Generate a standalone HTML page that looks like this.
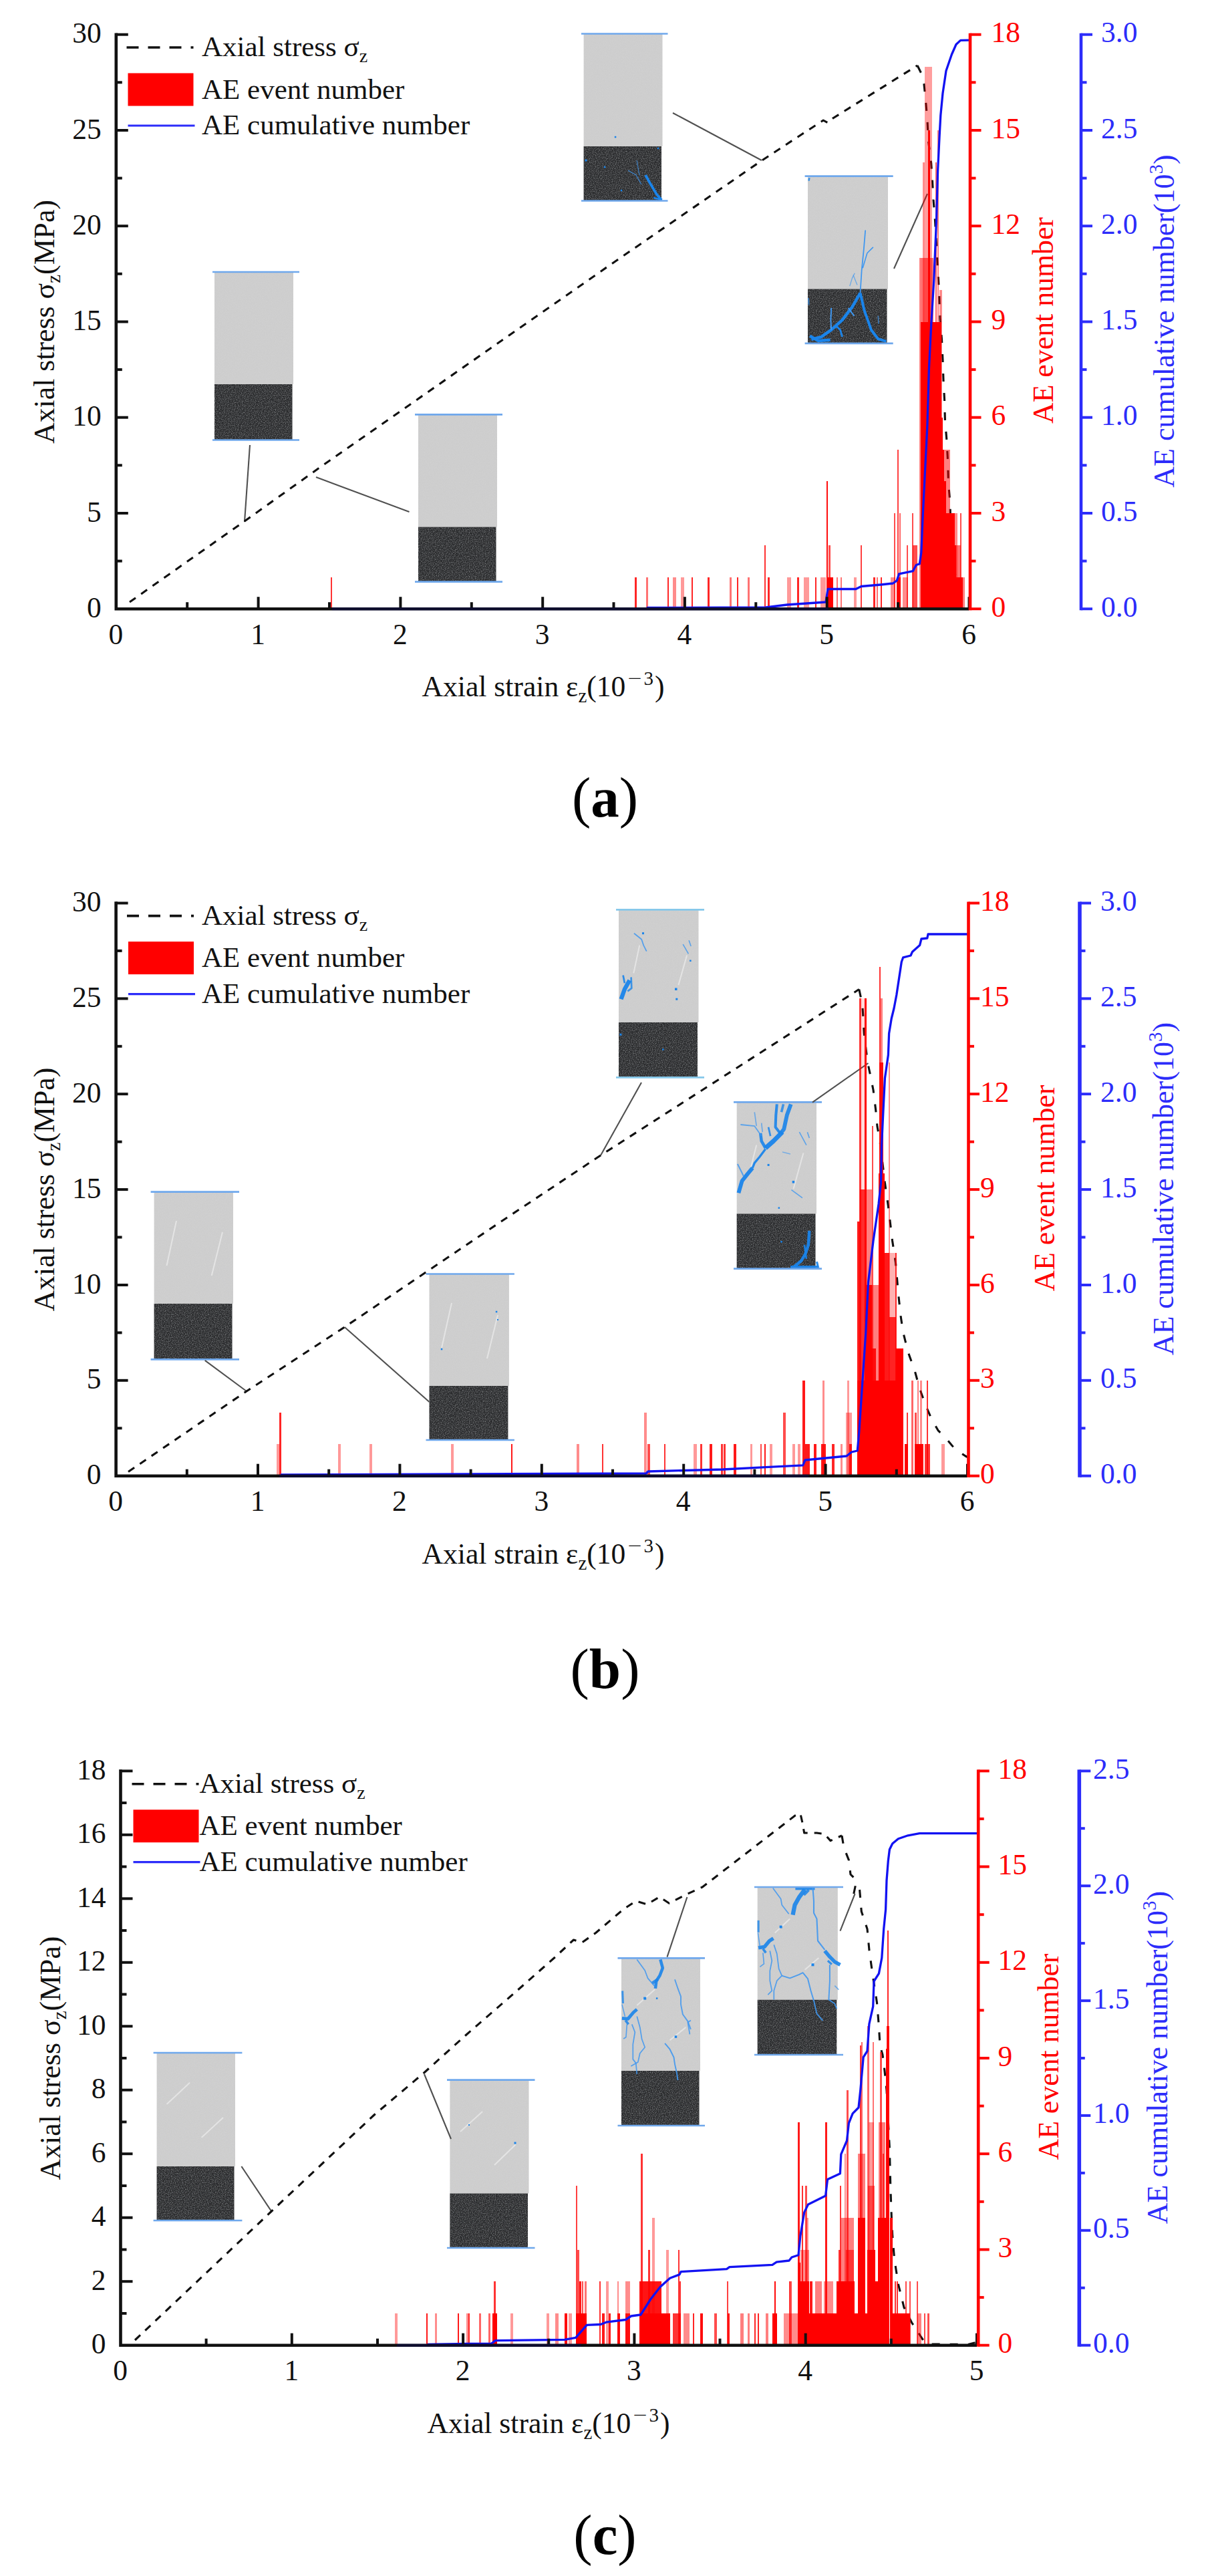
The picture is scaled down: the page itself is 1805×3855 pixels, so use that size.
<!DOCTYPE html><html lang="en"><head><meta charset="utf-8"><title>Axial stress, AE event number and AE cumulative number</title>
<style>html,body{margin:0;padding:0;background:#fff}svg{display:block}text{font-family:"Liberation Serif","DejaVu Serif",serif}</style></head><body>
<svg width="1805" height="3855" viewBox="0 0 1805 3855" role="img" aria-label="Axial stress, AE event number and AE cumulative number versus axial strain, panels a, b and c">
<defs>
<filter id="nd" x="0" y="0" width="100%" height="100%"><feTurbulence type="fractalNoise" baseFrequency="0.8" numOctaves="1" seed="3" result="n"/><feColorMatrix in="n" type="matrix" values="0 0 0 0 0.32  0 0 0 0 0.33  0 0 0 0 0.34  2.0 0 0 0 -0.88"/><feComposite operator="in" in2="SourceGraphic"/></filter>
<filter id="ng" x="0" y="0" width="100%" height="100%"><feTurbulence type="fractalNoise" baseFrequency="0.8" numOctaves="1" seed="9" result="n"/><feColorMatrix in="n" type="matrix" values="0 0 0 0 0.72  0 0 0 0 0.72  0 0 0 0 0.74  1.4 0 0 0 -0.62"/><feComposite operator="in" in2="SourceGraphic"/></filter>
</defs>
<rect width="1805" height="3855" fill="#fff"/>
<rect x="321.0" y="407.0" width="118.0" height="168.0" fill="#cdcdcd"/>
<rect x="321.0" y="407.0" width="118.0" height="168.0" fill="#cdcdcd" filter="url(#ng)" opacity=".55"/>
<rect x="321.0" y="575.0" width="116.5" height="83.5" fill="#2b2c2e"/>
<rect x="321.0" y="575.0" width="116.5" height="83.5" fill="#2b2c2e" filter="url(#nd)"/>
<path d="M318.0 407.0H448.0M318.0 658.5H448.0" stroke="#6fa8ec" stroke-width="2.7" fill="none"/>
<rect x="626.0" y="620.4" width="118.0" height="168.2" fill="#cdcdcd"/>
<rect x="626.0" y="620.4" width="118.0" height="168.2" fill="#cdcdcd" filter="url(#ng)" opacity=".55"/>
<rect x="626.0" y="788.6" width="116.5" height="82.0" fill="#2b2c2e"/>
<rect x="626.0" y="788.6" width="116.5" height="82.0" fill="#2b2c2e" filter="url(#nd)"/>
<path d="M621.0 620.4H752.0M621.0 870.6H752.0" stroke="#6fa8ec" stroke-width="2.7" fill="none"/>
<rect x="873.6" y="50.5" width="117.9" height="168.5" fill="#cdcdcd"/>
<rect x="873.6" y="50.5" width="117.9" height="168.5" fill="#cdcdcd" filter="url(#ng)" opacity=".55"/>
<rect x="873.6" y="219.0" width="116.4" height="81.5" fill="#2b2c2e"/>
<rect x="873.6" y="219.0" width="116.4" height="81.5" fill="#2b2c2e" filter="url(#nd)"/>
<polyline points="966.0,262.0 974.0,276.0 983.0,291.0 990.0,299.0" fill="none" stroke="#1a84ea" stroke-width="3.78" stroke-linejoin="round" opacity="1"/>
<polyline points="978.0,296.0 991.0,299.0" fill="none" stroke="#1a84ea" stroke-width="2.70" stroke-linejoin="round" opacity="1"/>
<polyline points="940.0,255.0 952.0,262.0 960.0,276.0" fill="none" stroke="#3f97f0" stroke-width="1.28" stroke-linejoin="round" opacity="0.8"/>
<polyline points="953.0,240.0 957.0,262.0" fill="none" stroke="#3f97f0" stroke-width="1.28" stroke-linejoin="round" opacity="0.7"/>
<rect x="875.5" y="238.5" width="3.0" height="3.0" fill="#1a84ea"/>
<rect x="903.8" y="248.8" width="2.5" height="2.5" fill="#1a84ea"/>
<rect x="928.8" y="283.8" width="2.5" height="2.5" fill="#1a84ea"/>
<rect x="983.8" y="220.8" width="2.5" height="2.5" fill="#1a84ea"/>
<rect x="919.8" y="203.8" width="2.5" height="2.5" fill="#1a84ea"/>
<path d="M870.0 50.5H999.5M870.0 300.5H999.5" stroke="#6fa8ec" stroke-width="2.7" fill="none"/>
<rect x="1209.0" y="263.6" width="120.0" height="168.9" fill="#cdcdcd"/>
<rect x="1209.0" y="263.6" width="120.0" height="168.9" fill="#cdcdcd" filter="url(#ng)" opacity=".55"/>
<rect x="1209.0" y="432.5" width="118.5" height="81.4" fill="#2b2c2e"/>
<rect x="1209.0" y="432.5" width="118.5" height="81.4" fill="#2b2c2e" filter="url(#nd)"/>
<polyline points="1287.5,438.5 1289.7,404.2 1292.7,374.3 1295.2,344.5" fill="none" stroke="#3f97f0" stroke-width="1.76" stroke-linejoin="round" opacity="1"/>
<polyline points="1291.2,401.2 1297.9,378.8 1306.9,369.9" fill="none" stroke="#3f97f0" stroke-width="1.60" stroke-linejoin="round" opacity="1"/>
<polyline points="1271.8,428.1 1275.5,416.1 1279.3,408.7" fill="none" stroke="#3f97f0" stroke-width="1.28" stroke-linejoin="round" opacity="0.7"/>
<polyline points="1283.0,426.6 1277.0,411.6" fill="none" stroke="#3f97f0" stroke-width="1.28" stroke-linejoin="round" opacity="0.7"/>
<polyline points="1287.5,438.5 1275.5,459.4 1260.6,478.8 1244.2,493.7 1229.3,504.2 1214.3,507.9" fill="none" stroke="#1a84ea" stroke-width="4.50" stroke-linejoin="round" opacity="1"/>
<polyline points="1287.5,438.5 1293.4,463.9 1303.9,493.7 1314.3,507.2 1326.3,510.9" fill="none" stroke="#1a84ea" stroke-width="4.05" stroke-linejoin="round" opacity="1"/>
<polyline points="1244.2,460.9 1243.4,478.8 1244.2,493.7" fill="none" stroke="#3f97f0" stroke-width="2.00" stroke-linejoin="round" opacity="1"/>
<polyline points="1250.1,486.3 1257.6,493.7 1260.6,504.2" fill="none" stroke="#1a84ea" stroke-width="2.70" stroke-linejoin="round" opacity="1"/>
<polyline points="1269.6,460.9 1278.5,472.8" fill="none" stroke="#3f97f0" stroke-width="2.00" stroke-linejoin="round" opacity="1"/>
<polyline points="1212.1,502.7 1224.8,510.1 1242.7,508.7" fill="none" stroke="#1a84ea" stroke-width="4.50" stroke-linejoin="round" opacity="1"/>
<polyline points="1209.9,446.0 1210.6,456.4" fill="none" stroke="#3f97f0" stroke-width="2.00" stroke-linejoin="round" opacity="0.7"/>
<polyline points="1314.3,472.8 1315.1,484.8" fill="none" stroke="#3f97f0" stroke-width="1.60" stroke-linejoin="round" opacity="0.7"/>
<polyline points="1211.3,266.1 1210.6,270.6" fill="none" stroke="#1a84ea" stroke-width="2.70" stroke-linejoin="round" opacity="0.8"/>
<path d="M1204.6 263.6H1336.7M1204.6 513.9H1336.7" stroke="#6fa8ec" stroke-width="2.7" fill="none"/>
<path d="M374.0 666.0L366.0 781.0" stroke="#505050" stroke-width="2.1" fill="none"/>
<path d="M473.0 714.0L612.5 766.0" stroke="#505050" stroke-width="2.1" fill="none"/>
<path d="M1007.0 169.0L1140.0 240.0" stroke="#505050" stroke-width="2.1" fill="none"/>
<path d="M1388.0 290.0L1338.0 402.0" stroke="#505050" stroke-width="2.1" fill="none"/>
<polyline points="194.0,901.0 366.0,780.0 478.0,700.0 908.0,400.0 1139.3,240.8 1200.0,201.0 1232.2,180.0 1238.8,183.6 1247.0,176.7 1373.0,98.0" fill="none" stroke="#111111" stroke-width="3.1" stroke-dasharray="11 10" stroke-linejoin="round"/>
<polyline points="1373.0,98.0 1378.8,109.6 1383.0,126.0 1385.4,149.5 1388.0,181.0 1389.5,210.8 1393.7,244.0 1395.4,268.8 1397.0,298.7 1399.5,330.0 1403.0,390.0 1406.0,446.0 1407.0,477.5 1409.5,507.4 1411.0,539.0 1412.0,568.8 1413.6,598.6 1414.4,628.0 1417.0,660.0 1418.6,690.0 1419.4,721.0 1422.0,752.7 1422.7,786.0 1423.5,809.0 1426.0,840.0 1432.0,872.0 1441.0,904.0" fill="none" stroke="#111111" stroke-width="3.1" stroke-dasharray="12 17" stroke-linejoin="round"/>
<g fill="#ff0000" shape-rendering="crispEdges">
<rect x="494.8" y="863.5" width="2.5" height="47.8" opacity="0.8"/>
<rect x="949.9" y="863.5" width="2.6" height="47.8" opacity="0.85"/>
<rect x="998.7" y="863.5" width="2.6" height="47.8" opacity="0.85"/>
<rect x="1034.5" y="863.5" width="2.6" height="47.8" opacity="0.85"/>
<rect x="1059.4" y="863.5" width="2.6" height="47.8" opacity="0.85"/>
<rect x="1102.7" y="863.5" width="2.6" height="47.8" opacity="0.85"/>
<rect x="1149.4" y="863.5" width="2.6" height="47.8" opacity="0.85"/>
<rect x="1193.2" y="863.5" width="2.6" height="47.8" opacity="0.85"/>
<rect x="1219.7" y="863.5" width="2.6" height="47.8" opacity="0.85"/>
<rect x="1307.2" y="863.5" width="2.6" height="47.8" opacity="0.85"/>
<rect x="1317.7" y="863.5" width="2.6" height="47.8" opacity="0.85"/>
<rect x="966.9" y="863.5" width="2.6" height="47.8" opacity="0.55"/>
<rect x="1092.2" y="863.5" width="2.6" height="47.8" opacity="0.55"/>
<rect x="1119.4" y="863.5" width="2.6" height="47.8" opacity="0.55"/>
<rect x="1251.7" y="863.5" width="2.6" height="47.8" opacity="0.55"/>
<rect x="1257.7" y="863.5" width="2.6" height="47.8" opacity="0.55"/>
<rect x="1311.7" y="863.5" width="2.6" height="47.8" opacity="0.55"/>
<rect x="1006.5" y="863.5" width="5.0" height="47.8" opacity="0.45"/>
<rect x="1018.9" y="863.5" width="5.0" height="47.8" opacity="0.4"/>
<rect x="1178.0" y="863.5" width="6.0" height="47.8" opacity="0.4"/>
<rect x="1203.0" y="863.5" width="8.0" height="47.8" opacity="0.4"/>
<rect x="1228.0" y="863.5" width="8.0" height="47.8" opacity="0.4"/>
<rect x="1277.5" y="863.5" width="4.0" height="47.8" opacity="0.4"/>
<rect x="1143.5" y="815.7" width="2.6" height="95.5" opacity="0.8"/>
<rect x="1236.7" y="720.2" width="2.6" height="191.0" opacity="0.95"/>
<rect x="1239.0" y="863.5" width="8.0" height="47.8" opacity="1"/>
<rect x="1239.5" y="815.7" width="3.0" height="95.5" opacity="0.7"/>
<rect x="1287.7" y="815.7" width="2.6" height="95.5" opacity="0.75"/>
<rect x="1333.0" y="863.5" width="7.0" height="47.8" opacity="0.45"/>
<rect x="1337.5" y="768.0" width="2.0" height="143.2" opacity="0.7"/>
<rect x="1342.9" y="672.5" width="2.2" height="238.8" opacity="0.75"/>
<rect x="1345.5" y="768.0" width="2.0" height="143.2" opacity="0.6"/>
<rect x="1341.5" y="863.5" width="6.5" height="47.8" opacity="1"/>
<rect x="1351.4" y="863.5" width="7.6" height="47.8" opacity="0.45"/>
<rect x="1356.6" y="815.7" width="2.2" height="95.5" opacity="0.7"/>
<rect x="1364.9" y="768.0" width="2.2" height="143.2" opacity="0.7"/>
<rect x="1365.5" y="815.7" width="7.5" height="95.5" opacity="0.7"/>
<rect x="1375.5" y="386.0" width="2.5" height="525.2" opacity="0.5"/>
<rect x="1378.0" y="386.0" width="19.0" height="525.2" opacity="0.55"/>
<rect x="1378.0" y="481.5" width="30.6" height="429.8" opacity="1"/>
<rect x="1380.5" y="242.7" width="3.2" height="668.5" opacity="0.45"/>
<rect x="1383.7" y="99.5" width="10.8" height="811.8" opacity="0.38"/>
<rect x="1389.4" y="195.0" width="2.2" height="716.2" opacity="1"/>
<rect x="1400.0" y="242.7" width="2.0" height="668.5" opacity="0.6"/>
<rect x="1402.6" y="195.0" width="2.2" height="716.2" opacity="0.5"/>
<rect x="1406.0" y="433.7" width="4.0" height="477.5" opacity="0.45"/>
<rect x="1408.6" y="624.7" width="2.4" height="286.5" opacity="1"/>
<rect x="1411.0" y="672.5" width="2.0" height="238.8" opacity="1"/>
<rect x="1413.0" y="672.5" width="9.0" height="238.8" opacity="0.5"/>
<rect x="1413.0" y="720.2" width="3.0" height="191.0" opacity="1"/>
<rect x="1416.0" y="768.0" width="13.0" height="143.2" opacity="1"/>
<rect x="1429.0" y="768.0" width="4.0" height="143.2" opacity="0.45"/>
<rect x="1436.5" y="768.0" width="2.2" height="143.2" opacity="0.7"/>
<rect x="1429.0" y="815.7" width="2.0" height="95.5" opacity="1"/>
<rect x="1431.0" y="815.7" width="6.6" height="95.5" opacity="0.55"/>
<rect x="1431.0" y="863.5" width="10.0" height="47.8" opacity="1"/>
<rect x="1441.0" y="863.5" width="2.6" height="47.8" opacity="0.5"/>
</g>
<polyline points="968.0,909.5 1146.0,909.0 1178.0,905.0 1236.0,901.0 1239.0,881.5 1281.0,881.5 1289.0,877.5 1318.0,875.0 1336.5,873.0 1342.3,868.8 1345.6,858.8 1366.3,854.7 1371.3,845.5 1376.3,843.9 1378.8,827.3 1381.3,769.0 1384.6,703.0 1387.9,636.6 1390.4,552.0 1393.7,485.8 1397.8,419.5 1401.5,330.0 1403.6,255.6 1406.0,206.0 1407.8,172.7 1411.0,139.5 1416.0,106.0 1424.4,81.5 1431.0,66.5 1437.6,60.4 1450.0,60.2" fill="none" stroke="#1212f2" stroke-width="3.3" stroke-linejoin="round"/>
<g stroke="#111111" stroke-width="4.6" fill="none">
<path d="M173.8 49.4V911.2H1450.5"/>
</g>
<g stroke="#111111" stroke-width="4" fill="none">
<path d="M173.8 839.6h9"/>
<path d="M173.8 768.0h18"/>
<path d="M173.8 696.3h9"/>
<path d="M173.8 624.7h18"/>
<path d="M173.8 553.1h9"/>
<path d="M173.8 481.5h18"/>
<path d="M173.8 409.8h9"/>
<path d="M173.8 338.2h18"/>
<path d="M173.8 266.6h9"/>
<path d="M173.8 195.0h18"/>
<path d="M173.8 123.3h9"/>
<path d="M173.8 51.7h18"/>
<path d="M280.2 911.2v-10"/>
<path d="M386.6 911.2v-18"/>
<path d="M493.0 911.2v-10"/>
<path d="M599.4 911.2v-18"/>
<path d="M705.8 911.2v-10"/>
<path d="M812.2 911.2v-18"/>
<path d="M918.5 911.2v-10"/>
<path d="M1024.9 911.2v-18"/>
<path d="M1131.3 911.2v-10"/>
<path d="M1237.7 911.2v-18"/>
<path d="M1344.1 911.2v-10"/>
<path d="M1450.5 911.2v-18"/>
</g>
<text x="151.8" y="923.7" font-size="43.5" fill="#111111" text-anchor="end">0</text>
<text x="151.8" y="780.5" font-size="43.5" fill="#111111" text-anchor="end">5</text>
<text x="151.8" y="637.2" font-size="43.5" fill="#111111" text-anchor="end">10</text>
<text x="151.8" y="494.0" font-size="43.5" fill="#111111" text-anchor="end">15</text>
<text x="151.8" y="350.7" font-size="43.5" fill="#111111" text-anchor="end">20</text>
<text x="151.8" y="207.5" font-size="43.5" fill="#111111" text-anchor="end">25</text>
<text x="151.8" y="64.2" font-size="43.5" fill="#111111" text-anchor="end">30</text>
<text x="173.3" y="963.7" font-size="43.5" fill="#111111" text-anchor="middle">0</text>
<text x="386.1" y="963.7" font-size="43.5" fill="#111111" text-anchor="middle">1</text>
<text x="598.9" y="963.7" font-size="43.5" fill="#111111" text-anchor="middle">2</text>
<text x="811.7" y="963.7" font-size="43.5" fill="#111111" text-anchor="middle">3</text>
<text x="1024.4" y="963.7" font-size="43.5" fill="#111111" text-anchor="middle">4</text>
<text x="1237.2" y="963.7" font-size="43.5" fill="#111111" text-anchor="middle">5</text>
<text x="1450.0" y="963.7" font-size="43.5" fill="#111111" text-anchor="middle">6</text>
<g stroke="#ff0000" stroke-width="4.6" fill="none">
<path d="M1452.0 49.7V913.2"/>
</g><g stroke="#ff0000" stroke-width="4" fill="none">
<path d="M1452.0 911.2h16.5"/>
<path d="M1452.0 839.6h8.5"/>
<path d="M1452.0 768.0h16.5"/>
<path d="M1452.0 696.3h8.5"/>
<path d="M1452.0 624.7h16.5"/>
<path d="M1452.0 553.1h8.5"/>
<path d="M1452.0 481.5h16.5"/>
<path d="M1452.0 409.8h8.5"/>
<path d="M1452.0 338.2h16.5"/>
<path d="M1452.0 266.6h8.5"/>
<path d="M1452.0 195.0h16.5"/>
<path d="M1452.0 123.3h8.5"/>
<path d="M1452.0 51.7h16.5"/>
</g>
<text x="1483.5" y="922.7" font-size="43.5" fill="#ff0000" text-anchor="start">0</text>
<text x="1483.5" y="779.5" font-size="43.5" fill="#ff0000" text-anchor="start">3</text>
<text x="1483.5" y="636.2" font-size="43.5" fill="#ff0000" text-anchor="start">6</text>
<text x="1483.5" y="493.0" font-size="43.5" fill="#ff0000" text-anchor="start">9</text>
<text x="1483.5" y="349.7" font-size="43.5" fill="#ff0000" text-anchor="start">12</text>
<text x="1483.5" y="206.5" font-size="43.5" fill="#ff0000" text-anchor="start">15</text>
<text x="1483.5" y="63.2" font-size="43.5" fill="#ff0000" text-anchor="start">18</text>
<g stroke="#2c2cfa" stroke-width="4.6" fill="none">
<path d="M1618.0 49.7V913.2"/>
</g><g stroke="#2c2cfa" stroke-width="4" fill="none">
<path d="M1618.0 911.2h17"/>
<path d="M1618.0 839.6h8.5"/>
<path d="M1618.0 768.0h17"/>
<path d="M1618.0 696.3h8.5"/>
<path d="M1618.0 624.7h17"/>
<path d="M1618.0 553.1h8.5"/>
<path d="M1618.0 481.5h17"/>
<path d="M1618.0 409.8h8.5"/>
<path d="M1618.0 338.2h17"/>
<path d="M1618.0 266.6h8.5"/>
<path d="M1618.0 195.0h17"/>
<path d="M1618.0 123.3h8.5"/>
<path d="M1618.0 51.7h17"/>
</g>
<text x="1648.0" y="922.7" font-size="43.5" fill="#2c2cfa" text-anchor="start">0.0</text>
<text x="1648.0" y="779.5" font-size="43.5" fill="#2c2cfa" text-anchor="start">0.5</text>
<text x="1648.0" y="636.2" font-size="43.5" fill="#2c2cfa" text-anchor="start">1.0</text>
<text x="1648.0" y="493.0" font-size="43.5" fill="#2c2cfa" text-anchor="start">1.5</text>
<text x="1648.0" y="349.7" font-size="43.5" fill="#2c2cfa" text-anchor="start">2.0</text>
<text x="1648.0" y="206.5" font-size="43.5" fill="#2c2cfa" text-anchor="start">2.5</text>
<text x="1648.0" y="63.2" font-size="43.5" fill="#2c2cfa" text-anchor="start">3.0</text>
<text x="80.8" y="481.5" font-size="43.8" fill="#111111" text-anchor="middle" transform="rotate(-90 80.8 481.5)">Axial stress σ<tspan font-size="29" dy="9">z</tspan><tspan dy="-9">(MPa)</tspan></text>
<text x="1576.0" y="479.5" font-size="43.8" fill="#ff0000" text-anchor="middle" transform="rotate(-90 1576.0 479.5)">AE event number</text>
<text x="1757.0" y="480.5" font-size="44" fill="#2c2cfa" text-anchor="middle" transform="rotate(-90 1757.0 480.5)">AE cumulative number(10<tspan font-size="29" dy="-17">3</tspan><tspan dy="17">)</tspan></text>
<text x="813.0" y="1042.2" font-size="43.6" fill="#111111" text-anchor="middle">Axial strain ε<tspan font-size="29" dy="9">z</tspan><tspan dy="-9">(10</tspan><tspan font-size="29" dy="-17" dx="3" textLength="21" lengthAdjust="spacingAndGlyphs">−</tspan><tspan font-size="29" dx="3">3</tspan><tspan dy="17" dx="2">)</tspan></text>
<path d="M189.5 71.0h100" stroke="#111111" stroke-width="3.6" stroke-dasharray="18 14" fill="none"/>
<rect x="191.5" y="109.5" width="98" height="49" fill="#ff0000"/>
<path d="M191.5 188.0h100" stroke="#2c2cfa" stroke-width="3.2" fill="none"/>
<text x="302.0" y="84.0" font-size="43" fill="#111111" text-anchor="start">Axial stress σ<tspan font-size="28" dy="9">z</tspan></text>
<text x="302.0" y="147.5" font-size="43" fill="#111111" text-anchor="start">AE event number</text>
<text x="302.0" y="201.0" font-size="43" fill="#111111" text-anchor="start">AE cumulative number</text>
<path d="M497.0 911.2H1240.0" stroke="#0000c8" stroke-width="4.6" opacity=".16" fill="none"/>
<rect x="230.6" y="1783.6" width="118.4" height="167.4" fill="#cdcdcd"/>
<rect x="230.6" y="1783.6" width="118.4" height="167.4" fill="#cdcdcd" filter="url(#ng)" opacity=".55"/>
<rect x="230.6" y="1951.0" width="116.9" height="83.3" fill="#2b2c2e"/>
<rect x="230.6" y="1951.0" width="116.9" height="83.3" fill="#2b2c2e" filter="url(#nd)"/>
<path d="M264.0 1827.0L249.5 1894.0" stroke="#e4e4e4" stroke-width="2" fill="none"/>
<path d="M333.0 1844.0L316.7 1909.0" stroke="#e4e4e4" stroke-width="2" fill="none"/>
<path d="M225.6 1783.6H358.0M225.6 2034.3H358.0" stroke="#6fa8ec" stroke-width="2.7" fill="none"/>
<rect x="642.5" y="1906.5" width="119.4" height="167.5" fill="#cdcdcd"/>
<rect x="642.5" y="1906.5" width="119.4" height="167.5" fill="#cdcdcd" filter="url(#ng)" opacity=".55"/>
<rect x="642.5" y="2074.0" width="117.9" height="81.0" fill="#2b2c2e"/>
<rect x="642.5" y="2074.0" width="117.9" height="81.0" fill="#2b2c2e" filter="url(#nd)"/>
<path d="M676.0 1950.0L661.0 2017.0" stroke="#e4e4e4" stroke-width="2" fill="none"/>
<path d="M745.0 1968.0L729.0 2033.0" stroke="#e4e4e4" stroke-width="2" fill="none"/>
<rect x="659.8" y="2017.8" width="2.5" height="2.5" fill="#1a84ea"/>
<rect x="741.8" y="1961.8" width="2.5" height="2.5" fill="#1a84ea"/>
<rect x="744.0" y="1974.0" width="2.0" height="2.0" fill="#1a84ea"/>
<path d="M637.5 1906.5H769.9M637.5 2155.0H769.9" stroke="#6fa8ec" stroke-width="2.7" fill="none"/>
<rect x="926.0" y="1361.3" width="119.5" height="168.7" fill="#cdcdcd"/>
<rect x="926.0" y="1361.3" width="119.5" height="168.7" fill="#cdcdcd" filter="url(#ng)" opacity=".55"/>
<rect x="926.0" y="1530.0" width="118.0" height="82.3" fill="#2b2c2e"/>
<rect x="926.0" y="1530.0" width="118.0" height="82.3" fill="#2b2c2e" filter="url(#nd)"/>
<path d="M957.2 1414.6L948.3 1456.4" stroke="#e4e4e4" stroke-width="2" fill="none"/>
<path d="M1028.1 1429.6L1015.4 1474.3" stroke="#e4e4e4" stroke-width="2" fill="none"/>
<polyline points="942.3,1466.9 934.9,1480.3 929.6,1495.2" fill="none" stroke="#1a84ea" stroke-width="6.30" stroke-linejoin="round" opacity="0.95"/>
<polyline points="932.6,1459.4 934.9,1471.3" fill="none" stroke="#1a84ea" stroke-width="2.70" stroke-linejoin="round" opacity="0.9"/>
<polyline points="944.6,1462.4 945.3,1478.8 939.3,1483.3" fill="none" stroke="#1a84ea" stroke-width="2.70" stroke-linejoin="round" opacity="0.8"/>
<polyline points="949.0,1396.7 960.2,1405.7 963.2,1414.6 967.7,1423.6" fill="none" stroke="#3f97f0" stroke-width="1.76" stroke-linejoin="round" opacity="0.85"/>
<polyline points="1022.2,1413.1 1030.4,1427.3" fill="none" stroke="#3f97f0" stroke-width="1.60" stroke-linejoin="round" opacity="0.8"/>
<polyline points="1031.1,1407.2 1034.1,1416.1" fill="none" stroke="#3f97f0" stroke-width="1.60" stroke-linejoin="round" opacity="0.8"/>
<rect x="961.0" y="1395.2" width="3.0" height="3.0" fill="#1a84ea"/>
<rect x="1032.1" y="1436.5" width="2.5" height="2.5" fill="#1a84ea"/>
<rect x="1010.0" y="1478.5" width="3.5" height="3.5" fill="#1a84ea"/>
<rect x="1011.3" y="1493.7" width="3.0" height="3.0" fill="#1a84ea"/>
<rect x="927.4" y="1546.7" width="3.0" height="3.0" fill="#1a84ea"/>
<rect x="991.1" y="1569.3" width="2.5" height="2.5" fill="#1a84ea"/>
<path d="M922.0 1361.3H1054.0M922.0 1612.3H1054.0" stroke="#86c8ea" stroke-width="2.7" fill="none"/>
<rect x="1102.7" y="1649.4" width="119.3" height="167.0" fill="#cdcdcd"/>
<rect x="1102.7" y="1649.4" width="119.3" height="167.0" fill="#cdcdcd" filter="url(#ng)" opacity=".55"/>
<rect x="1102.7" y="1816.4" width="117.8" height="82.3" fill="#2b2c2e"/>
<rect x="1102.7" y="1816.4" width="117.8" height="82.3" fill="#2b2c2e" filter="url(#nd)"/>
<path d="M1202.4 1725.5L1187.5 1779.3" stroke="#e4e4e4" stroke-width="2" fill="none"/>
<path d="M1132.2 1713.6L1123.3 1749.4" stroke="#e4e4e4" stroke-width="2" fill="none"/>
<polyline points="1183.7,1652.4 1177.8,1668.8 1173.3,1689.7 1168.1,1696.4" fill="none" stroke="#1a84ea" stroke-width="5.85" stroke-linejoin="round" opacity="0.9"/>
<polyline points="1162.8,1652.4 1161.3,1668.8 1160.6,1686.7 1168.1,1696.4" fill="none" stroke="#1a84ea" stroke-width="4.05" stroke-linejoin="round" opacity="0.9"/>
<polyline points="1172.5,1652.4 1169.6,1664.3" fill="none" stroke="#1a84ea" stroke-width="3.60" stroke-linejoin="round" opacity="0.8"/>
<polyline points="1171.0,1694.2 1157.6,1707.6 1145.7,1718.1" fill="none" stroke="#1a84ea" stroke-width="6.75" stroke-linejoin="round" opacity="0.95"/>
<polyline points="1138.2,1695.7 1139.7,1707.6 1145.7,1718.1" fill="none" stroke="#1a84ea" stroke-width="4.50" stroke-linejoin="round" opacity="0.9"/>
<polyline points="1150.1,1686.7 1153.1,1700.1" fill="none" stroke="#1a84ea" stroke-width="2.70" stroke-linejoin="round" opacity="0.85"/>
<polyline points="1145.7,1719.6 1136.7,1731.5 1129.3,1740.4 1126.3,1747.9" fill="none" stroke="#1a84ea" stroke-width="3.24" stroke-linejoin="round" opacity="0.95"/>
<polyline points="1126.3,1747.9 1118.8,1756.9 1110.6,1767.3 1105.4,1785.2" fill="none" stroke="#1a84ea" stroke-width="5.85" stroke-linejoin="round" opacity="0.95"/>
<polyline points="1103.9,1741.9 1109.9,1753.9 1112.8,1759.9" fill="none" stroke="#3f97f0" stroke-width="2.00" stroke-linejoin="round" opacity="0.85"/>
<polyline points="1108.4,1683.0 1129.3,1685.2 1139.7,1700.1" fill="none" stroke="#3f97f0" stroke-width="1.76" stroke-linejoin="round" opacity="0.8"/>
<polyline points="1129.3,1664.3 1132.2,1685.2" fill="none" stroke="#3f97f0" stroke-width="1.60" stroke-linejoin="round" opacity="0.7"/>
<polyline points="1139.7,1680.7 1141.2,1694.2" fill="none" stroke="#3f97f0" stroke-width="1.60" stroke-linejoin="round" opacity="0.7"/>
<polyline points="1196.4,1694.2 1206.9,1713.6" fill="none" stroke="#3f97f0" stroke-width="1.60" stroke-linejoin="round" opacity="0.8"/>
<polyline points="1208.4,1694.2 1211.3,1703.1" fill="none" stroke="#3f97f0" stroke-width="1.60" stroke-linejoin="round" opacity="0.8"/>
<polyline points="1184.5,1780.7 1200.9,1792.7" fill="none" stroke="#3f97f0" stroke-width="1.60" stroke-linejoin="round" opacity="0.8"/>
<polyline points="1171.0,1724.0 1183.0,1727.0" fill="none" stroke="#3f97f0" stroke-width="1.60" stroke-linejoin="round" opacity="0.6"/>
<polyline points="1211.3,1841.9 1209.9,1862.8 1205.4,1876.3 1199.4,1886.7 1187.5,1896.4" fill="none" stroke="#1a84ea" stroke-width="4.50" stroke-linejoin="round" opacity="0.95"/>
<polyline points="1183.0,1896.4 1224.0,1896.4" fill="none" stroke="#1a84ea" stroke-width="4.95" stroke-linejoin="round" opacity="0.95"/>
<polyline points="1222.5,1888.2 1224.8,1897.9" fill="none" stroke="#1a84ea" stroke-width="3.15" stroke-linejoin="round" opacity="0.9"/>
<polyline points="1203.9,1862.8 1206.9,1883.7" fill="none" stroke="#1a84ea" stroke-width="2.70" stroke-linejoin="round" opacity="0.9"/>
<rect x="1185.7" y="1767.1" width="3.5" height="3.5" fill="#1a84ea"/>
<rect x="1148.6" y="1741.9" width="3.0" height="3.0" fill="#1a84ea"/>
<rect x="1164.6" y="1806.4" width="2.5" height="2.5" fill="#1a84ea"/>
<rect x="1168.3" y="1857.1" width="2.5" height="2.5" fill="#1a84ea"/>
<path d="M1098.0 1649.4H1230.0M1098.0 1898.7H1230.0" stroke="#6fa8ec" stroke-width="2.7" fill="none"/>
<path d="M306.7 2035.8L369.0 2082.0" stroke="#505050" stroke-width="2.1" fill="none"/>
<path d="M515.7 1986.0L642.5 2098.0" stroke="#505050" stroke-width="2.1" fill="none"/>
<path d="M960.0 1620.0L899.0 1729.0" stroke="#505050" stroke-width="2.1" fill="none"/>
<path d="M1216.0 1649.7L1299.5 1591.0" stroke="#505050" stroke-width="2.1" fill="none"/>
<polyline points="192.0,2202.5 369.0,2082.0 515.7,1986.0 750.0,1828.0 899.0,1729.0 1285.8,1480.5" fill="none" stroke="#111111" stroke-width="3.1" stroke-dasharray="11 10" stroke-linejoin="round"/>
<polyline points="1285.8,1480.5 1290.8,1504.0 1293.3,1546.5 1298.3,1588.8 1302.0,1606.0 1307.0,1631.0 1310.7,1661.0 1313.0,1685.8 1317.0,1708.0 1324.4,1770.0 1329.4,1804.8 1335.6,1857.0 1340.5,1889.4 1344.3,1934.0 1348.0,1969.0 1351.7,1993.9 1359.2,2023.7 1369.0,2051.0 1376.6,2078.5 1385.3,2103.0 1394.0,2123.0 1404.0,2140.6 1416.4,2153.0 1428.9,2168.0 1445.0,2179.0 1449.0,2181.0" fill="none" stroke="#111111" stroke-width="3.1" stroke-dasharray="12 17" stroke-linejoin="round"/>
<g fill="#ff0000" shape-rendering="crispEdges">
<rect x="414.0" y="2161.1" width="4.0" height="47.6" opacity="0.4"/>
<rect x="418.4" y="2113.5" width="2.5" height="95.2" opacity="0.85"/>
<rect x="506.0" y="2161.1" width="4.0" height="47.6" opacity="0.4"/>
<rect x="552.5" y="2161.1" width="4.0" height="47.6" opacity="0.4"/>
<rect x="675.0" y="2161.1" width="4.0" height="47.6" opacity="0.4"/>
<rect x="764.6" y="2161.1" width="2.5" height="47.6" opacity="0.9"/>
<rect x="863.4" y="2161.1" width="4.0" height="47.6" opacity="0.45"/>
<rect x="900.8" y="2161.1" width="2.5" height="47.6" opacity="0.8"/>
<rect x="964.0" y="2113.5" width="4.0" height="95.2" opacity="0.45"/>
<rect x="968.8" y="2161.1" width="4.0" height="47.6" opacity="0.7"/>
<rect x="993.5" y="2161.1" width="2.5" height="47.6" opacity="0.8"/>
<rect x="1037.5" y="2161.1" width="5.0" height="47.6" opacity="0.4"/>
<rect x="1048.3" y="2161.1" width="2.5" height="47.6" opacity="0.8"/>
<rect x="1062.4" y="2161.1" width="4.0" height="47.6" opacity="0.9"/>
<rect x="1079.0" y="2161.1" width="2.5" height="47.6" opacity="0.8"/>
<rect x="1083.0" y="2161.1" width="2.5" height="47.6" opacity="0.8"/>
<rect x="1098.0" y="2161.1" width="4.0" height="47.6" opacity="0.9"/>
<rect x="1122.5" y="2161.1" width="3.0" height="47.6" opacity="0.4"/>
<rect x="1137.8" y="2161.1" width="2.5" height="47.6" opacity="0.7"/>
<rect x="1143.8" y="2161.1" width="2.5" height="47.6" opacity="0.9"/>
<rect x="1152.0" y="2161.1" width="4.0" height="47.6" opacity="0.4"/>
<rect x="1171.8" y="2113.5" width="4.0" height="95.2" opacity="0.7"/>
<rect x="1185.8" y="2161.1" width="4.0" height="47.6" opacity="0.4"/>
<rect x="1193.7" y="2161.1" width="4.0" height="47.6" opacity="0.4"/>
<rect x="1200.5" y="2065.8" width="4.0" height="142.9" opacity="0.9"/>
<rect x="1204.5" y="2161.1" width="3.0" height="47.6" opacity="0.9"/>
<rect x="1208.0" y="2161.1" width="4.0" height="47.6" opacity="0.9"/>
<rect x="1218.0" y="2161.1" width="4.0" height="47.6" opacity="0.9"/>
<rect x="1230.5" y="2065.8" width="3.0" height="142.9" opacity="0.45"/>
<rect x="1229.0" y="2161.1" width="7.0" height="47.6" opacity="0.9"/>
<rect x="1245.0" y="2161.1" width="4.0" height="47.6" opacity="0.85"/>
<rect x="1258.2" y="2161.1" width="3.0" height="47.6" opacity="0.45"/>
<rect x="1266.0" y="2113.5" width="8.6" height="95.2" opacity="0.4"/>
<rect x="1268.1" y="2065.8" width="3.0" height="142.9" opacity="0.4"/>
<rect x="1271.0" y="2161.1" width="4.0" height="47.6" opacity="0.9"/>
<rect x="1283.3" y="2065.8" width="68.7" height="142.9" opacity="1"/>
<rect x="1283.0" y="1827.7" width="4.0" height="381.0" opacity="0.9"/>
<rect x="1286.0" y="1494.4" width="2.5" height="714.3" opacity="0.8"/>
<rect x="1288.5" y="1494.4" width="5.0" height="714.3" opacity="0.14"/>
<rect x="1293.5" y="1494.4" width="3.0" height="714.3" opacity="1"/>
<rect x="1287.0" y="1780.1" width="9.5" height="428.6" opacity="0.8"/>
<rect x="1296.5" y="1780.1" width="8.5" height="428.6" opacity="0.5"/>
<rect x="1304.7" y="1684.9" width="2.0" height="523.8" opacity="0.7"/>
<rect x="1296.5" y="1923.0" width="8.5" height="285.7" opacity="1"/>
<rect x="1305.0" y="1923.0" width="10.0" height="285.7" opacity="0.5"/>
<rect x="1305.0" y="2018.2" width="6.0" height="190.5" opacity="0.9"/>
<rect x="1315.0" y="1756.3" width="9.4" height="452.4" opacity="1"/>
<rect x="1315.7" y="1589.6" width="6.3" height="619.1" opacity="0.9"/>
<rect x="1315.9" y="1446.7" width="2.2" height="762.0" opacity="0.8"/>
<rect x="1318.0" y="1494.4" width="2.5" height="714.3" opacity="0.5"/>
<rect x="1324.4" y="1875.3" width="6.6" height="333.4" opacity="0.9"/>
<rect x="1329.8" y="1589.6" width="2.4" height="619.1" opacity="0.45"/>
<rect x="1331.0" y="1970.6" width="10.0" height="238.1" opacity="0.8"/>
<rect x="1331.0" y="1875.3" width="10.0" height="333.4" opacity="0.3"/>
<rect x="1339.9" y="1875.3" width="2.2" height="333.4" opacity="0.8"/>
<rect x="1341.0" y="2018.2" width="11.0" height="190.5" opacity="1"/>
<rect x="1354.0" y="2161.1" width="5.0" height="47.6" opacity="1"/>
<rect x="1357.0" y="2113.5" width="2.0" height="95.2" opacity="0.8"/>
<rect x="1364.2" y="2065.8" width="2.5" height="142.9" opacity="0.6"/>
<rect x="1369.0" y="2113.5" width="2.6" height="95.2" opacity="0.7"/>
<rect x="1372.8" y="2065.8" width="2.5" height="142.9" opacity="0.5"/>
<rect x="1376.6" y="2065.8" width="3.4" height="142.9" opacity="0.45"/>
<rect x="1369.0" y="2161.1" width="12.6" height="47.6" opacity="1"/>
<rect x="1386.5" y="2065.8" width="2.5" height="142.9" opacity="0.8"/>
<rect x="1384.0" y="2161.1" width="7.5" height="47.6" opacity="0.8"/>
<rect x="1408.9" y="2161.1" width="5.0" height="47.6" opacity="0.4"/>
</g>
<polyline points="420.0,2207.0 967.0,2205.0 970.0,2202.0 1082.0,2199.0 1146.0,2195.6 1201.7,2192.8 1205.0,2185.0 1267.0,2179.0 1274.6,2173.0 1283.3,2171.0 1285.8,2143.0 1290.8,2068.5 1295.8,1994.0 1299.5,1919.0 1307.0,1857.0 1315.0,1802.0 1318.5,1770.0 1319.6,1713.0 1321.9,1663.4 1324.4,1613.6 1329.4,1578.8 1330.6,1546.5 1334.3,1524.0 1338.0,1509.0 1341.8,1489.0 1349.3,1439.5 1351.7,1432.8 1363.0,1430.0 1365.4,1424.6 1376.6,1414.6 1379.0,1405.0 1387.8,1404.0 1389.0,1398.0 1448.0,1398.0" fill="none" stroke="#1212f2" stroke-width="3.3" stroke-linejoin="round"/>
<g stroke="#111111" stroke-width="4.6" fill="none">
<path d="M173.6 1349.2V2208.7H1448.0"/>
</g>
<g stroke="#111111" stroke-width="4" fill="none">
<path d="M173.6 2137.3h9"/>
<path d="M173.6 2065.8h18"/>
<path d="M173.6 1994.4h9"/>
<path d="M173.6 1923.0h18"/>
<path d="M173.6 1851.5h9"/>
<path d="M173.6 1780.1h18"/>
<path d="M173.6 1708.7h9"/>
<path d="M173.6 1637.2h18"/>
<path d="M173.6 1565.8h9"/>
<path d="M173.6 1494.4h18"/>
<path d="M173.6 1422.9h9"/>
<path d="M173.6 1351.5h18"/>
<path d="M279.8 2208.7v-10"/>
<path d="M386.0 2208.7v-18"/>
<path d="M492.2 2208.7v-10"/>
<path d="M598.4 2208.7v-18"/>
<path d="M704.6 2208.7v-10"/>
<path d="M810.8 2208.7v-18"/>
<path d="M917.0 2208.7v-10"/>
<path d="M1023.2 2208.7v-18"/>
<path d="M1129.4 2208.7v-10"/>
<path d="M1235.6 2208.7v-18"/>
<path d="M1341.8 2208.7v-10"/>
<path d="M1448.0 2208.7v-18"/>
</g>
<text x="151.6" y="2221.2" font-size="43.5" fill="#111111" text-anchor="end">0</text>
<text x="151.6" y="2078.3" font-size="43.5" fill="#111111" text-anchor="end">5</text>
<text x="151.6" y="1935.5" font-size="43.5" fill="#111111" text-anchor="end">10</text>
<text x="151.6" y="1792.6" font-size="43.5" fill="#111111" text-anchor="end">15</text>
<text x="151.6" y="1649.7" font-size="43.5" fill="#111111" text-anchor="end">20</text>
<text x="151.6" y="1506.9" font-size="43.5" fill="#111111" text-anchor="end">25</text>
<text x="151.6" y="1364.0" font-size="43.5" fill="#111111" text-anchor="end">30</text>
<text x="173.1" y="2261.2" font-size="43.5" fill="#111111" text-anchor="middle">0</text>
<text x="385.5" y="2261.2" font-size="43.5" fill="#111111" text-anchor="middle">1</text>
<text x="597.9" y="2261.2" font-size="43.5" fill="#111111" text-anchor="middle">2</text>
<text x="810.3" y="2261.2" font-size="43.5" fill="#111111" text-anchor="middle">3</text>
<text x="1022.7" y="2261.2" font-size="43.5" fill="#111111" text-anchor="middle">4</text>
<text x="1235.1" y="2261.2" font-size="43.5" fill="#111111" text-anchor="middle">5</text>
<text x="1447.5" y="2261.2" font-size="43.5" fill="#111111" text-anchor="middle">6</text>
<g stroke="#ff0000" stroke-width="4.6" fill="none">
<path d="M1449.5 1349.5V2210.7"/>
</g><g stroke="#ff0000" stroke-width="4" fill="none">
<path d="M1449.5 2208.7h16.5"/>
<path d="M1449.5 2137.3h8.5"/>
<path d="M1449.5 2065.8h16.5"/>
<path d="M1449.5 1994.4h8.5"/>
<path d="M1449.5 1923.0h16.5"/>
<path d="M1449.5 1851.5h8.5"/>
<path d="M1449.5 1780.1h16.5"/>
<path d="M1449.5 1708.7h8.5"/>
<path d="M1449.5 1637.2h16.5"/>
<path d="M1449.5 1565.8h8.5"/>
<path d="M1449.5 1494.4h16.5"/>
<path d="M1449.5 1422.9h8.5"/>
<path d="M1449.5 1351.5h16.5"/>
</g>
<text x="1467.0" y="2220.2" font-size="43.5" fill="#ff0000" text-anchor="start">0</text>
<text x="1467.0" y="2077.3" font-size="43.5" fill="#ff0000" text-anchor="start">3</text>
<text x="1467.0" y="1934.5" font-size="43.5" fill="#ff0000" text-anchor="start">6</text>
<text x="1467.0" y="1791.6" font-size="43.5" fill="#ff0000" text-anchor="start">9</text>
<text x="1467.0" y="1648.7" font-size="43.5" fill="#ff0000" text-anchor="start">12</text>
<text x="1467.0" y="1505.9" font-size="43.5" fill="#ff0000" text-anchor="start">15</text>
<text x="1467.0" y="1363.0" font-size="43.5" fill="#ff0000" text-anchor="start">18</text>
<g stroke="#2c2cfa" stroke-width="5.6" fill="none">
<path d="M1616.0 1349.5V2210.7"/>
</g><g stroke="#2c2cfa" stroke-width="4" fill="none">
<path d="M1616.0 2208.7h17"/>
<path d="M1616.0 2137.3h8.5"/>
<path d="M1616.0 2065.8h17"/>
<path d="M1616.0 1994.4h8.5"/>
<path d="M1616.0 1923.0h17"/>
<path d="M1616.0 1851.5h8.5"/>
<path d="M1616.0 1780.1h17"/>
<path d="M1616.0 1708.7h8.5"/>
<path d="M1616.0 1637.2h17"/>
<path d="M1616.0 1565.8h8.5"/>
<path d="M1616.0 1494.4h17"/>
<path d="M1616.0 1422.9h8.5"/>
<path d="M1616.0 1351.5h17"/>
</g>
<text x="1647.0" y="2220.2" font-size="43.5" fill="#2c2cfa" text-anchor="start">0.0</text>
<text x="1647.0" y="2077.3" font-size="43.5" fill="#2c2cfa" text-anchor="start">0.5</text>
<text x="1647.0" y="1934.5" font-size="43.5" fill="#2c2cfa" text-anchor="start">1.0</text>
<text x="1647.0" y="1791.6" font-size="43.5" fill="#2c2cfa" text-anchor="start">1.5</text>
<text x="1647.0" y="1648.7" font-size="43.5" fill="#2c2cfa" text-anchor="start">2.0</text>
<text x="1647.0" y="1505.9" font-size="43.5" fill="#2c2cfa" text-anchor="start">2.5</text>
<text x="1647.0" y="1363.0" font-size="43.5" fill="#2c2cfa" text-anchor="start">3.0</text>
<text x="80.8" y="1780.1" font-size="43.8" fill="#111111" text-anchor="middle" transform="rotate(-90 80.8 1780.1)">Axial stress σ<tspan font-size="29" dy="9">z</tspan><tspan dy="-9">(MPa)</tspan></text>
<text x="1577.7" y="1778.1" font-size="43.8" fill="#ff0000" text-anchor="middle" transform="rotate(-90 1577.7 1778.1)">AE event number</text>
<text x="1756.3" y="1779.1" font-size="44" fill="#2c2cfa" text-anchor="middle" transform="rotate(-90 1756.3 1779.1)">AE cumulative number(10<tspan font-size="29" dy="-17">3</tspan><tspan dy="17">)</tspan></text>
<text x="813.0" y="2339.7" font-size="43.6" fill="#111111" text-anchor="middle">Axial strain ε<tspan font-size="29" dy="9">z</tspan><tspan dy="-9">(10</tspan><tspan font-size="29" dy="-17" dx="3" textLength="21" lengthAdjust="spacingAndGlyphs">−</tspan><tspan font-size="29" dx="3">3</tspan><tspan dy="17" dx="2">)</tspan></text>
<path d="M190.0 1370.6h100" stroke="#111111" stroke-width="3.6" stroke-dasharray="18 14" fill="none"/>
<rect x="192.0" y="1409.1" width="98" height="49" fill="#ff0000"/>
<path d="M192.0 1487.6h100" stroke="#2c2cfa" stroke-width="3.2" fill="none"/>
<text x="302.0" y="1383.6" font-size="43" fill="#111111" text-anchor="start">Axial stress σ<tspan font-size="28" dy="9">z</tspan></text>
<text x="302.0" y="1447.1" font-size="43" fill="#111111" text-anchor="start">AE event number</text>
<text x="302.0" y="1500.6" font-size="43" fill="#111111" text-anchor="start">AE cumulative number</text>
<path d="M418.0 2208.7H1210.0" stroke="#0000c8" stroke-width="4.6" opacity=".16" fill="none"/>
<rect x="234.6" y="3072.0" width="117.4" height="170.0" fill="#cdcdcd"/>
<rect x="234.6" y="3072.0" width="117.4" height="170.0" fill="#cdcdcd" filter="url(#ng)" opacity=".55"/>
<rect x="234.6" y="3242.0" width="115.9" height="81.0" fill="#2b2c2e"/>
<rect x="234.6" y="3242.0" width="115.9" height="81.0" fill="#2b2c2e" filter="url(#nd)"/>
<path d="M284.0 3116.7L249.5 3149.0" stroke="#e4e4e4" stroke-width="2" fill="none"/>
<path d="M334.0 3169.0L301.7 3198.8" stroke="#e4e4e4" stroke-width="2" fill="none"/>
<path d="M229.6 3072.0H362.4M229.6 3323.0H362.4" stroke="#6fa8ec" stroke-width="2.7" fill="none"/>
<rect x="673.4" y="3112.7" width="118.1" height="169.8" fill="#cdcdcd"/>
<rect x="673.4" y="3112.7" width="118.1" height="169.8" fill="#cdcdcd" filter="url(#ng)" opacity=".55"/>
<rect x="673.4" y="3282.5" width="116.6" height="81.5" fill="#2b2c2e"/>
<rect x="673.4" y="3282.5" width="116.6" height="81.5" fill="#2b2c2e" filter="url(#nd)"/>
<path d="M722.0 3160.0L689.0 3190.0" stroke="#e4e4e4" stroke-width="2" fill="none"/>
<path d="M772.0 3209.0L740.0 3240.0" stroke="#e4e4e4" stroke-width="2" fill="none"/>
<rect x="769.5" y="3205.5" width="3.0" height="3.0" fill="#1a84ea"/>
<rect x="701.0" y="3179.0" width="2.0" height="2.0" fill="#1a84ea"/>
<path d="M669.0 3112.7H800.5M669.0 3364.0H800.5" stroke="#6fa8ec" stroke-width="2.7" fill="none"/>
<rect x="930.0" y="2930.4" width="118.0" height="168.6" fill="#cdcdcd"/>
<rect x="930.0" y="2930.4" width="118.0" height="168.6" fill="#cdcdcd" filter="url(#ng)" opacity=".55"/>
<rect x="930.0" y="3099.0" width="116.5" height="82.0" fill="#2b2c2e"/>
<rect x="930.0" y="3099.0" width="116.5" height="82.0" fill="#2b2c2e" filter="url(#nd)"/>
<path d="M980.1 2977.2L953.3 3001.0" stroke="#e4e4e4" stroke-width="2" fill="none"/>
<path d="M1026.4 3033.9L1002.5 3053.3" stroke="#e4e4e4" stroke-width="2" fill="none"/>
<polyline points="988.4,2932.4 991.8,2945.1 987.6,2956.3 982.4,2964.5 980.9,2975.7" fill="none" stroke="#1a84ea" stroke-width="4.50" stroke-linejoin="round" opacity="0.9"/>
<polyline points="975.7,2968.2 984.6,2962.2" fill="none" stroke="#1a84ea" stroke-width="4.50" stroke-linejoin="round" opacity="0.85"/>
<polyline points="930.9,3020.4 939.9,3021.2 948.1,3011.5 953.3,3007.0" fill="none" stroke="#1a84ea" stroke-width="4.95" stroke-linejoin="round" opacity="0.9"/>
<polyline points="936.1,3023.4 940.6,3029.4" fill="none" stroke="#1a84ea" stroke-width="3.60" stroke-linejoin="round" opacity="0.85"/>
<polyline points="931.6,2979.4 932.4,2998.1" fill="none" stroke="#1a84ea" stroke-width="3.15" stroke-linejoin="round" opacity="0.8"/>
<polyline points="953.3,2932.4 965.2,2948.8 969.7,2960.7 980.1,2972.7" fill="none" stroke="#3f97f0" stroke-width="1.76" stroke-linejoin="round" opacity="0.85"/>
<polyline points="930.9,2999.6 935.4,3017.5" fill="none" stroke="#3f97f0" stroke-width="1.60" stroke-linejoin="round" opacity="0.8"/>
<polyline points="938.4,3029.4 936.9,3048.8 933.1,3051.0" fill="none" stroke="#3f97f0" stroke-width="1.60" stroke-linejoin="round" opacity="0.85"/>
<polyline points="945.8,3029.4 950.3,3041.3 947.3,3059.3 947.3,3081.6 951.8,3087.6 953.3,3104.0" fill="none" stroke="#3f97f0" stroke-width="1.76" stroke-linejoin="round" opacity="0.85"/>
<polyline points="953.3,3017.5 957.8,3033.9 960.7,3051.8 965.2,3063.7 957.8,3072.7 954.8,3086.1 944.3,3092.1" fill="none" stroke="#3f97f0" stroke-width="1.76" stroke-linejoin="round" opacity="0.85"/>
<polyline points="1010.0,2962.2 1014.5,2975.7 1019.0,2987.6 1019.0,2999.6 1021.9,3014.5 1029.4,3024.9 1033.9,3036.9" fill="none" stroke="#3f97f0" stroke-width="1.92" stroke-linejoin="round" opacity="0.85"/>
<polyline points="1033.9,3023.4 1029.4,3026.4 1032.4,3044.3" fill="none" stroke="#3f97f0" stroke-width="1.76" stroke-linejoin="round" opacity="0.85"/>
<polyline points="995.1,3057.8 1002.5,3066.7 1008.5,3078.7 1010.0,3089.1 1013.0,3102.5 1014.5,3113.0" fill="none" stroke="#3f97f0" stroke-width="1.92" stroke-linejoin="round" opacity="0.9"/>
<rect x="963.2" y="2988.6" width="4.0" height="4.0" fill="#1a84ea"/>
<rect x="1009.7" y="3046.3" width="3.5" height="3.5" fill="#1a84ea"/>
<rect x="981.9" y="2989.3" width="2.5" height="2.5" fill="#1a84ea"/>
<path d="M924.5 2930.4H1055.0M924.5 3181.0H1055.0" stroke="#6fa8ec" stroke-width="2.7" fill="none"/>
<rect x="1133.7" y="2824.0" width="120.1" height="168.7" fill="#cdcdcd"/>
<rect x="1133.7" y="2824.0" width="120.1" height="168.7" fill="#cdcdcd" filter="url(#ng)" opacity=".55"/>
<rect x="1133.7" y="2992.7" width="118.6" height="82.3" fill="#2b2c2e"/>
<rect x="1133.7" y="2992.7" width="118.6" height="82.3" fill="#2b2c2e" filter="url(#nd)"/>
<path d="M1182.2 2871.6L1159.8 2892.5" stroke="#e4e4e4" stroke-width="2" fill="none"/>
<path d="M1225.4 2929.9L1204.6 2947.8" stroke="#e4e4e4" stroke-width="2" fill="none"/>
<polyline points="1204.6,2827.6 1196.3,2838.8 1189.6,2850.7 1186.6,2865.7" fill="none" stroke="#1a84ea" stroke-width="6.30" stroke-linejoin="round" opacity="0.9"/>
<polyline points="1190.4,2826.1 1219.5,2826.1" fill="none" stroke="#1a84ea" stroke-width="4.50" stroke-linejoin="round" opacity="0.9"/>
<polyline points="1210.5,2828.4 1203.1,2835.8" fill="none" stroke="#1a84ea" stroke-width="4.05" stroke-linejoin="round" opacity="0.85"/>
<polyline points="1135.1,2914.9 1144.1,2913.4 1151.6,2904.5 1157.5,2900.7" fill="none" stroke="#1a84ea" stroke-width="5.40" stroke-linejoin="round" opacity="0.9"/>
<polyline points="1141.9,2916.4 1146.3,2922.4" fill="none" stroke="#1a84ea" stroke-width="3.60" stroke-linejoin="round" opacity="0.85"/>
<polyline points="1135.1,2873.9 1135.1,2891.8" fill="none" stroke="#1a84ea" stroke-width="3.15" stroke-linejoin="round" opacity="0.8"/>
<polyline points="1234.4,2919.4 1241.9,2928.4 1249.3,2935.8 1257.5,2940.3" fill="none" stroke="#1a84ea" stroke-width="5.40" stroke-linejoin="round" opacity="0.9"/>
<polyline points="1238.9,2934.3 1244.9,2939.6" fill="none" stroke="#1a84ea" stroke-width="3.15" stroke-linejoin="round" opacity="0.85"/>
<polyline points="1156.8,2825.4 1168.7,2841.8 1170.2,2850.7 1180.7,2864.2" fill="none" stroke="#3f97f0" stroke-width="1.76" stroke-linejoin="round" opacity="0.85"/>
<polyline points="1216.5,2825.4 1218.0,2844.8 1218.0,2862.7 1222.5,2871.6 1224.0,2904.5 1234.4,2917.9" fill="none" stroke="#3f97f0" stroke-width="2.08" stroke-linejoin="round" opacity="0.9"/>
<polyline points="1241.9,2940.3 1241.9,2964.2 1240.4,2992.5 1249.3,2998.5 1252.3,3006.0" fill="none" stroke="#3f97f0" stroke-width="1.92" stroke-linejoin="round" opacity="0.9"/>
<polyline points="1249.3,2971.6 1255.3,2977.6" fill="none" stroke="#3f97f0" stroke-width="1.60" stroke-linejoin="round" opacity="0.7"/>
<polyline points="1141.9,2922.4 1143.4,2938.8 1137.4,2943.3" fill="none" stroke="#3f97f0" stroke-width="1.60" stroke-linejoin="round" opacity="0.85"/>
<polyline points="1152.3,2919.4 1155.3,2934.3 1152.3,2949.3 1152.3,2964.2 1155.3,2979.1 1149.3,2985.1" fill="none" stroke="#3f97f0" stroke-width="1.76" stroke-linejoin="round" opacity="0.85"/>
<polyline points="1158.3,2910.4 1162.8,2923.9 1165.7,2946.3 1170.2,2956.7 1162.8,2964.2 1158.3,2979.1 1158.3,2992.5" fill="none" stroke="#3f97f0" stroke-width="1.76" stroke-linejoin="round" opacity="0.85"/>
<polyline points="1170.2,2956.7 1182.2,2960.4 1195.6,2955.2 1201.6,2952.2 1209.0,2961.2 1213.5,2979.1 1218.0,2994.0 1222.5,3013.4 1231.4,3023.9" fill="none" stroke="#3f97f0" stroke-width="1.92" stroke-linejoin="round" opacity="0.9"/>
<polyline points="1134.4,2892.5 1137.4,2913.4" fill="none" stroke="#3f97f0" stroke-width="1.60" stroke-linejoin="round" opacity="0.8"/>
<rect x="1166.7" y="2881.6" width="4.0" height="4.0" fill="#1a84ea"/>
<rect x="1214.5" y="2938.3" width="4.0" height="4.0" fill="#1a84ea"/>
<path d="M1129.0 2824.0H1262.0M1129.0 3075.0H1262.0" stroke="#6fa8ec" stroke-width="2.7" fill="none"/>
<path d="M361.4 3242.0L406.2 3309.2" stroke="#505050" stroke-width="2.1" fill="none"/>
<path d="M635.0 3104.0L675.0 3201.0" stroke="#505050" stroke-width="2.1" fill="none"/>
<path d="M1028.4 2839.0L998.5 2928.6" stroke="#505050" stroke-width="2.1" fill="none"/>
<path d="M1257.5 2889.6L1279.6 2834.0" stroke="#505050" stroke-width="2.1" fill="none"/>
<polyline points="202.0,3502.0 406.0,3309.5 560.0,3165.0 634.6,3102.0 696.8,3046.0 775.6,2977.5 829.5,2930.0 858.5,2903.0 871.0,2907.0 891.7,2892.5 933.0,2857.3 951.8,2844.9 968.4,2849.9 987.0,2838.7 1001.5,2848.2 1028.5,2834.5 1051.3,2824.0 1190.0,2717.0 1197.9,2714.0 1200.8,2727.0 1203.7,2743.0 1222.5,2743.0 1234.0,2744.5 1243.0,2754.6 1260.0,2747.0" fill="none" stroke="#111111" stroke-width="3.1" stroke-dasharray="11 10" stroke-linejoin="round"/>
<polyline points="1260.0,2747.0 1263.0,2764.8 1270.4,2783.6 1273.0,2805.0 1282.0,2814.0 1277.7,2834.4 1286.4,2825.7 1289.3,2860.5 1298.0,2886.7 1301.0,2918.6 1305.0,2947.6 1308.0,2968.0 1312.5,2997.0 1315.4,3031.8 1317.0,3060.8 1321.0,3075.0 1324.0,3099.0 1327.0,3128.0 1331.4,3215.0 1332.8,3273.0 1334.3,3316.7 1335.7,3345.7 1338.6,3380.5 1344.4,3418.0 1353.0,3453.0 1364.7,3476.0 1382.0,3502.4 1391.0,3508.0 1449.0,3508.5 1459.6,3505.7" fill="none" stroke="#111111" stroke-width="3.1" stroke-dasharray="12 15" stroke-linejoin="round"/>
<g fill="#ff0000" shape-rendering="crispEdges">
<rect x="590.8" y="3462.0" width="4.0" height="47.7" opacity="0.4"/>
<rect x="637.8" y="3462.0" width="2.5" height="47.7" opacity="0.9"/>
<rect x="650.8" y="3462.0" width="3.5" height="47.7" opacity="0.45"/>
<rect x="684.5" y="3462.0" width="2.5" height="47.7" opacity="0.9"/>
<rect x="697.8" y="3462.0" width="4.0" height="47.7" opacity="0.45"/>
<rect x="700.8" y="3462.0" width="2.5" height="47.7" opacity="0.8"/>
<rect x="717.0" y="3462.0" width="3.0" height="47.7" opacity="0.6"/>
<rect x="730.5" y="3462.0" width="3.0" height="47.7" opacity="0.6"/>
<rect x="737.0" y="3462.0" width="6.5" height="47.7" opacity="1"/>
<rect x="739.1" y="3414.2" width="2.4" height="95.5" opacity="0.8"/>
<rect x="763.8" y="3462.0" width="4.5" height="47.7" opacity="0.4"/>
<rect x="817.8" y="3462.0" width="4.5" height="47.7" opacity="0.4"/>
<rect x="831.2" y="3462.0" width="4.5" height="47.7" opacity="0.45"/>
<rect x="845.0" y="3462.0" width="3.5" height="47.7" opacity="1"/>
<rect x="851.0" y="3462.0" width="5.0" height="47.7" opacity="0.4"/>
<rect x="861.8" y="3271.0" width="2.4" height="238.7" opacity="0.75"/>
<rect x="864.3" y="3366.5" width="3.0" height="143.2" opacity="0.7"/>
<rect x="861.7" y="3462.0" width="16.3" height="47.7" opacity="1"/>
<rect x="866.5" y="3414.2" width="3.0" height="95.5" opacity="0.9"/>
<rect x="870.5" y="3414.2" width="2.5" height="95.5" opacity="0.7"/>
<rect x="875.0" y="3414.2" width="3.0" height="95.5" opacity="0.55"/>
<rect x="896.8" y="3414.2" width="2.4" height="95.5" opacity="0.8"/>
<rect x="901.0" y="3462.0" width="4.0" height="47.7" opacity="0.9"/>
<rect x="906.5" y="3414.2" width="4.0" height="95.5" opacity="0.4"/>
<rect x="910.5" y="3462.0" width="3.0" height="47.7" opacity="0.9"/>
<rect x="923.5" y="3414.2" width="2.5" height="95.5" opacity="0.45"/>
<rect x="924.0" y="3462.0" width="4.0" height="47.7" opacity="0.95"/>
<rect x="936.0" y="3414.2" width="6.5" height="95.5" opacity="0.45"/>
<rect x="936.0" y="3462.0" width="6.5" height="47.7" opacity="0.9"/>
<rect x="957.0" y="3414.2" width="33.0" height="95.5" opacity="0.92"/>
<rect x="957.0" y="3462.0" width="45.7" height="47.7" opacity="1"/>
<rect x="959.1" y="3223.2" width="2.6" height="286.5" opacity="0.8"/>
<rect x="970.4" y="3366.5" width="2.4" height="143.2" opacity="0.8"/>
<rect x="975.8" y="3318.7" width="4.0" height="191.0" opacity="0.4"/>
<rect x="997.0" y="3366.5" width="4.0" height="143.2" opacity="0.4"/>
<rect x="1006.8" y="3462.0" width="12.2" height="47.7" opacity="0.8"/>
<rect x="1014.8" y="3366.5" width="2.4" height="143.2" opacity="0.8"/>
<rect x="1017.0" y="3414.2" width="2.0" height="95.5" opacity="0.8"/>
<rect x="1023.0" y="3462.0" width="8.7" height="47.7" opacity="0.45"/>
<rect x="1036.8" y="3462.0" width="2.4" height="47.7" opacity="0.85"/>
<rect x="1048.0" y="3462.0" width="3.6" height="47.7" opacity="0.95"/>
<rect x="1069.2" y="3462.0" width="3.5" height="47.7" opacity="0.7"/>
<rect x="1087.8" y="3414.2" width="2.4" height="95.5" opacity="0.75"/>
<rect x="1089.3" y="3462.0" width="2.4" height="47.7" opacity="0.9"/>
<rect x="1108.0" y="3462.0" width="4.5" height="47.7" opacity="0.5"/>
<rect x="1119.3" y="3462.0" width="3.0" height="47.7" opacity="0.5"/>
<rect x="1128.8" y="3462.0" width="2.4" height="47.7" opacity="0.85"/>
<rect x="1133.8" y="3462.0" width="2.4" height="47.7" opacity="0.85"/>
<rect x="1145.8" y="3462.0" width="4.0" height="47.7" opacity="0.5"/>
<rect x="1156.0" y="3462.0" width="6.0" height="47.7" opacity="1"/>
<rect x="1158.9" y="3414.2" width="2.2" height="95.5" opacity="0.8"/>
<rect x="1155.8" y="3462.0" width="7.3" height="47.7" opacity="1"/>
<rect x="1159.1" y="3414.2" width="2.2" height="95.5" opacity="0.8"/>
<rect x="1173.2" y="3462.0" width="20.3" height="47.7" opacity="0.45"/>
<rect x="1180.8" y="3414.2" width="2.2" height="95.5" opacity="0.8"/>
<rect x="1183.1" y="3414.2" width="2.2" height="95.5" opacity="0.7"/>
<rect x="1193.5" y="3385.6" width="4.4" height="124.1" opacity="1"/>
<rect x="1194.0" y="3175.5" width="2.6" height="334.2" opacity="0.9"/>
<rect x="1197.9" y="3414.2" width="13.1" height="95.5" opacity="1"/>
<rect x="1197.9" y="3366.5" width="13.1" height="143.2" opacity="0.45"/>
<rect x="1199.9" y="3271.0" width="2.4" height="238.7" opacity="0.8"/>
<rect x="1205.3" y="3271.0" width="2.6" height="238.7" opacity="0.7"/>
<rect x="1206.6" y="3318.7" width="3.5" height="191.0" opacity="0.4"/>
<rect x="1210.9" y="3462.0" width="40.6" height="47.7" opacity="1"/>
<rect x="1212.4" y="3414.2" width="3.8" height="95.5" opacity="0.9"/>
<rect x="1219.6" y="3414.2" width="10.2" height="95.5" opacity="0.5"/>
<rect x="1232.7" y="3414.2" width="14.5" height="95.5" opacity="0.45"/>
<rect x="1234.9" y="3175.5" width="2.6" height="334.2" opacity="0.9"/>
<rect x="1251.6" y="3414.2" width="27.6" height="95.5" opacity="1"/>
<rect x="1258.8" y="3318.7" width="18.9" height="191.0" opacity="0.5"/>
<rect x="1254.5" y="3366.5" width="3.5" height="143.2" opacity="0.8"/>
<rect x="1256.5" y="3271.0" width="2.4" height="238.7" opacity="0.8"/>
<rect x="1267.1" y="3127.7" width="2.6" height="382.0" opacity="0.7"/>
<rect x="1263.5" y="3223.2" width="2.2" height="286.5" opacity="0.45"/>
<rect x="1266.1" y="3366.5" width="11.6" height="143.2" opacity="0.6"/>
<rect x="1279.1" y="3462.0" width="4.4" height="47.7" opacity="1"/>
<rect x="1283.5" y="3318.7" width="11.6" height="191.0" opacity="1"/>
<rect x="1284.1" y="3223.2" width="10.4" height="286.5" opacity="0.5"/>
<rect x="1286.8" y="3060.9" width="2.6" height="448.8" opacity="0.8"/>
<rect x="1289.1" y="3056.1" width="2.2" height="453.6" opacity="0.6"/>
<rect x="1295.1" y="3462.0" width="2.9" height="47.7" opacity="1"/>
<rect x="1298.0" y="3366.5" width="11.6" height="143.2" opacity="1"/>
<rect x="1298.6" y="3271.0" width="10.4" height="238.7" opacity="0.55"/>
<rect x="1300.3" y="3175.5" width="7.8" height="334.2" opacity="0.4"/>
<rect x="1298.1" y="3032.3" width="2.6" height="477.4" opacity="0.6"/>
<rect x="1305.5" y="3056.1" width="2.4" height="453.6" opacity="0.55"/>
<rect x="1309.6" y="3414.2" width="4.4" height="95.5" opacity="1"/>
<rect x="1314.0" y="3318.7" width="11.6" height="191.0" opacity="1"/>
<rect x="1314.5" y="3175.5" width="10.4" height="334.2" opacity="0.5"/>
<rect x="1317.4" y="3070.5" width="2.4" height="439.2" opacity="0.7"/>
<rect x="1320.7" y="3223.2" width="2.2" height="286.5" opacity="0.8"/>
<rect x="1325.6" y="3065.7" width="5.8" height="444.0" opacity="1"/>
<rect x="1327.3" y="3032.3" width="3.8" height="477.4" opacity="0.9"/>
<rect x="1327.8" y="2889.0" width="2.4" height="620.7" opacity="0.85"/>
<rect x="1332.2" y="3318.7" width="3.5" height="191.0" opacity="1"/>
<rect x="1335.7" y="3462.0" width="26.1" height="47.7" opacity="1"/>
<rect x="1339.0" y="3414.2" width="2.2" height="95.5" opacity="0.8"/>
<rect x="1342.2" y="3414.2" width="2.2" height="95.5" opacity="0.8"/>
<rect x="1354.9" y="3414.2" width="2.2" height="95.5" opacity="0.7"/>
<rect x="1360.7" y="3414.2" width="2.2" height="95.5" opacity="0.7"/>
<rect x="1371.8" y="3414.2" width="2.2" height="95.5" opacity="0.7"/>
<rect x="1373.4" y="3462.0" width="5.8" height="47.7" opacity="0.5"/>
<rect x="1382.7" y="3462.0" width="2.4" height="47.7" opacity="0.7"/>
<rect x="1388.2" y="3462.0" width="2.4" height="47.7" opacity="0.7"/>
</g>
<polyline points="640.0,3508.5 700.0,3507.5 735.0,3507.5 741.5,3502.6 845.0,3501.3 861.7,3498.4 878.3,3479.3 899.0,3478.5 907.3,3475.2 936.3,3471.5 944.6,3466.0 959.0,3464.0 973.6,3441.0 988.0,3422.5 1002.7,3409.3 1017.0,3403.9 1019.0,3399.7 1087.6,3395.6 1091.8,3392.7 1156.0,3389.4 1162.3,3385.2 1181.0,3383.0 1185.0,3378.0 1195.0,3374.7 1197.9,3345.7 1203.7,3310.9 1209.5,3299.0 1235.6,3286.0 1238.5,3261.5 1257.4,3252.8 1258.8,3223.8 1267.5,3203.5 1270.4,3177.4 1276.2,3162.9 1285.0,3154.0 1287.8,3128.0 1292.2,3078.7 1298.0,3069.5 1300.9,3028.9 1306.7,3002.7 1308.0,2965.0 1315.4,2953.4 1319.8,2930.0 1322.7,2886.7 1325.6,2857.6 1327.0,2814.0 1329.3,2785.0 1331.4,2767.7 1335.7,2759.0 1344.4,2751.7 1359.0,2746.8 1376.3,2743.6 1462.0,2743.6" fill="none" stroke="#1212f2" stroke-width="3.3" stroke-linejoin="round"/>
<g stroke="#111111" stroke-width="4.6" fill="none">
<path d="M180.5 2648.0V3509.7H1462.0"/>
</g>
<g stroke="#111111" stroke-width="4" fill="none">
<path d="M180.5 3462.0h9"/>
<path d="M180.5 3414.2h18"/>
<path d="M180.5 3366.5h9"/>
<path d="M180.5 3318.7h18"/>
<path d="M180.5 3271.0h9"/>
<path d="M180.5 3223.2h18"/>
<path d="M180.5 3175.5h9"/>
<path d="M180.5 3127.7h18"/>
<path d="M180.5 3080.0h9"/>
<path d="M180.5 3032.3h18"/>
<path d="M180.5 2984.5h9"/>
<path d="M180.5 2936.8h18"/>
<path d="M180.5 2889.0h9"/>
<path d="M180.5 2841.3h18"/>
<path d="M180.5 2793.5h9"/>
<path d="M180.5 2745.8h18"/>
<path d="M180.5 2698.0h9"/>
<path d="M180.5 2650.3h18"/>
<path d="M308.6 3509.7v-10"/>
<path d="M436.8 3509.7v-18"/>
<path d="M565.0 3509.7v-10"/>
<path d="M693.1 3509.7v-18"/>
<path d="M821.2 3509.7v-10"/>
<path d="M949.4 3509.7v-18"/>
<path d="M1077.5 3509.7v-10"/>
<path d="M1205.7 3509.7v-18"/>
<path d="M1333.8 3509.7v-10"/>
<path d="M1462.0 3509.7v-18"/>
</g>
<text x="158.5" y="3522.2" font-size="43.5" fill="#111111" text-anchor="end">0</text>
<text x="158.5" y="3426.7" font-size="43.5" fill="#111111" text-anchor="end">2</text>
<text x="158.5" y="3331.2" font-size="43.5" fill="#111111" text-anchor="end">4</text>
<text x="158.5" y="3235.7" font-size="43.5" fill="#111111" text-anchor="end">6</text>
<text x="158.5" y="3140.2" font-size="43.5" fill="#111111" text-anchor="end">8</text>
<text x="158.5" y="3044.8" font-size="43.5" fill="#111111" text-anchor="end">10</text>
<text x="158.5" y="2949.3" font-size="43.5" fill="#111111" text-anchor="end">12</text>
<text x="158.5" y="2853.8" font-size="43.5" fill="#111111" text-anchor="end">14</text>
<text x="158.5" y="2758.3" font-size="43.5" fill="#111111" text-anchor="end">16</text>
<text x="158.5" y="2662.8" font-size="43.5" fill="#111111" text-anchor="end">18</text>
<text x="180.0" y="3562.2" font-size="43.5" fill="#111111" text-anchor="middle">0</text>
<text x="436.3" y="3562.2" font-size="43.5" fill="#111111" text-anchor="middle">1</text>
<text x="692.6" y="3562.2" font-size="43.5" fill="#111111" text-anchor="middle">2</text>
<text x="948.9" y="3562.2" font-size="43.5" fill="#111111" text-anchor="middle">3</text>
<text x="1205.2" y="3562.2" font-size="43.5" fill="#111111" text-anchor="middle">4</text>
<text x="1461.5" y="3562.2" font-size="43.5" fill="#111111" text-anchor="middle">5</text>
<g stroke="#ff0000" stroke-width="4.6" fill="none">
<path d="M1464.2 2648.3V3511.7"/>
</g><g stroke="#ff0000" stroke-width="4" fill="none">
<path d="M1464.2 3509.7h16.5"/>
<path d="M1464.2 3438.1h8.5"/>
<path d="M1464.2 3366.5h16.5"/>
<path d="M1464.2 3294.8h8.5"/>
<path d="M1464.2 3223.2h16.5"/>
<path d="M1464.2 3151.6h8.5"/>
<path d="M1464.2 3080.0h16.5"/>
<path d="M1464.2 3008.4h8.5"/>
<path d="M1464.2 2936.8h16.5"/>
<path d="M1464.2 2865.2h8.5"/>
<path d="M1464.2 2793.5h16.5"/>
<path d="M1464.2 2721.9h8.5"/>
<path d="M1464.2 2650.3h16.5"/>
</g>
<text x="1493.5" y="3521.2" font-size="43.5" fill="#ff0000" text-anchor="start">0</text>
<text x="1493.5" y="3378.0" font-size="43.5" fill="#ff0000" text-anchor="start">3</text>
<text x="1493.5" y="3234.7" font-size="43.5" fill="#ff0000" text-anchor="start">6</text>
<text x="1493.5" y="3091.5" font-size="43.5" fill="#ff0000" text-anchor="start">9</text>
<text x="1493.5" y="2948.3" font-size="43.5" fill="#ff0000" text-anchor="start">12</text>
<text x="1493.5" y="2805.0" font-size="43.5" fill="#ff0000" text-anchor="start">15</text>
<text x="1493.5" y="2661.8" font-size="43.5" fill="#ff0000" text-anchor="start">18</text>
<g stroke="#2c2cfa" stroke-width="5.6" fill="none">
<path d="M1615.3 2648.3V3511.7"/>
</g><g stroke="#2c2cfa" stroke-width="4" fill="none">
<path d="M1615.3 3509.7h17"/>
<path d="M1615.3 3423.8h8.5"/>
<path d="M1615.3 3337.8h17"/>
<path d="M1615.3 3251.9h8.5"/>
<path d="M1615.3 3165.9h17"/>
<path d="M1615.3 3080.0h8.5"/>
<path d="M1615.3 2994.1h17"/>
<path d="M1615.3 2908.1h8.5"/>
<path d="M1615.3 2822.2h17"/>
<path d="M1615.3 2736.2h8.5"/>
<path d="M1615.3 2650.3h17"/>
</g>
<text x="1636.0" y="3521.2" font-size="43.5" fill="#2c2cfa" text-anchor="start">0.0</text>
<text x="1636.0" y="3349.3" font-size="43.5" fill="#2c2cfa" text-anchor="start">0.5</text>
<text x="1636.0" y="3177.4" font-size="43.5" fill="#2c2cfa" text-anchor="start">1.0</text>
<text x="1636.0" y="3005.6" font-size="43.5" fill="#2c2cfa" text-anchor="start">1.5</text>
<text x="1636.0" y="2833.7" font-size="43.5" fill="#2c2cfa" text-anchor="start">2.0</text>
<text x="1636.0" y="2661.8" font-size="43.5" fill="#2c2cfa" text-anchor="start">2.5</text>
<text x="89.5" y="3080.0" font-size="43.8" fill="#111111" text-anchor="middle" transform="rotate(-90 89.5 3080.0)">Axial stress σ<tspan font-size="29" dy="9">z</tspan><tspan dy="-9">(MPa)</tspan></text>
<text x="1583.8" y="3078.0" font-size="43.8" fill="#ff0000" text-anchor="middle" transform="rotate(-90 1583.8 3078.0)">AE event number</text>
<text x="1747.2" y="3079.0" font-size="44" fill="#2c2cfa" text-anchor="middle" transform="rotate(-90 1747.2 3079.0)">AE cumulative number(10<tspan font-size="29" dy="-17">3</tspan><tspan dy="17">)</tspan></text>
<text x="821.0" y="3640.7" font-size="43.6" fill="#111111" text-anchor="middle">Axial strain ε<tspan font-size="29" dy="9">z</tspan><tspan dy="-9">(10</tspan><tspan font-size="29" dy="-17" dx="3" textLength="21" lengthAdjust="spacingAndGlyphs">−</tspan><tspan font-size="29" dx="3">3</tspan><tspan dy="17" dx="2">)</tspan></text>
<path d="M197.5 2669.7h100" stroke="#111111" stroke-width="3.6" stroke-dasharray="18 14" fill="none"/>
<rect x="199.5" y="2708.2" width="98" height="49" fill="#ff0000"/>
<path d="M199.5 2786.7h100" stroke="#2c2cfa" stroke-width="3.2" fill="none"/>
<text x="298.5" y="2682.7" font-size="43" fill="#111111" text-anchor="start">Axial stress σ<tspan font-size="28" dy="9">z</tspan></text>
<text x="298.5" y="2746.2" font-size="43" fill="#111111" text-anchor="start">AE event number</text>
<text x="298.5" y="2799.7" font-size="43" fill="#111111" text-anchor="start">AE cumulative number</text>
<path d="M594.0 3509.7H870.0" stroke="#0000c8" stroke-width="4.6" opacity=".16" fill="none"/>
<text x="905.5" y="1222.4" font-size="85" text-anchor="middle" fill="#000">(<tspan font-weight="bold">a</tspan>)</text>
<text x="905.5" y="2526.4" font-size="85" text-anchor="middle" fill="#000">(<tspan font-weight="bold">b</tspan>)</text>
<text x="905.5" y="3821.7" font-size="85" text-anchor="middle" fill="#000">(<tspan font-weight="bold">c</tspan>)</text>
</svg></body></html>
